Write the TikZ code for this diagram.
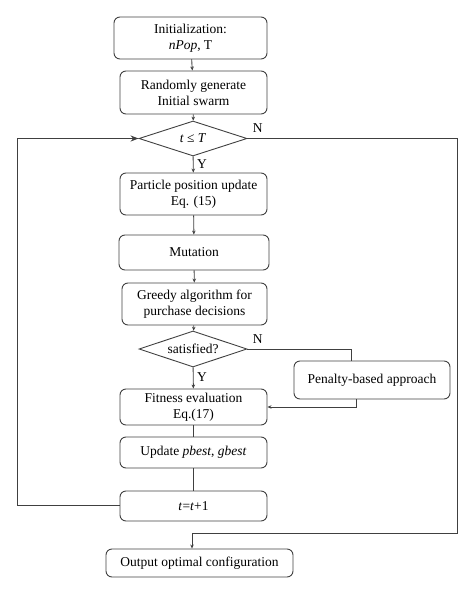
\documentclass[tikz,border=0pt]{standalone}
\usepackage{fontspec}
\setmainfont{Liberation Serif}
\usetikzlibrary{shapes.geometric,arrows.meta}

\begin{document}
\begin{tikzpicture}[x=1pt,y=-1pt,
  box/.style={draw=black!75,line width=0.9pt,rounded corners=6pt,align=center,
    font=\fontsize{13.5}{16}\selectfont,inner sep=0pt},
  decision/.style={draw=black!75,line width=0.9pt,diamond,aspect=3,inner sep=0pt,
    font=\fontsize{13.5}{16}\selectfont},
  line/.style={draw=black!75,line width=0.9pt},
  arrow/.style={line,-{Stealth[length=4pt,width=3.5pt]}},
  bigarrow/.style={line,-{Stealth[length=8pt,width=6pt]}},
  lbl/.style={font=\fontsize{13.5}{16}\selectfont}]
\useasboundingbox (0,0) rectangle (474,594);

\node[box,minimum width=153pt,minimum height=42pt] (init) at (190.5,38)
  {Initialization:\\\textit{nPop}, T};
\node[box,minimum width=147pt,minimum height=43pt] (random) at (193.5,92.5)
  {Randomly generate\\Initial swarm};
\node[decision,minimum width=108pt,minimum height=35pt] (check) at (193,138.5)
  {\textit{t} ≤ \textit{T}};
\node[box,minimum width=147pt,minimum height=42pt] (particle) at (193.5,194)
  {Particle position update\\Eq. (15)};
\node[box,minimum width=150pt,minimum height=35pt] (mutation) at (194,252.5)
  {Mutation};
\node[box,minimum width=145pt,minimum height=42pt] (greedy) at (194.5,304)
  {Greedy algorithm for\\purchase decisions};
\node[decision,minimum width=108pt,minimum height=36pt] (satisfied) at (193,349)
  {satisfied?};
\node[box,minimum width=156pt,minimum height=38pt] (penalty) at (372,380)
  {Penalty-based approach};
\node[box,minimum width=147pt,minimum height=36pt] (fitness) at (193.5,407)
  {Fitness evaluation\\Eq.(17)};
\node[box,minimum width=147pt,minimum height=31pt] (update) at (193.5,452.5)
  {Update \textit{pbest}, \textit{gbest}};
\node[box,minimum width=147pt,minimum height=30pt] (tinc) at (193.5,506)
  {\textit{t}=\textit{t}+1};
\node[box,minimum width=187pt,minimum height=28pt] (output) at (199.5,563)
  {Output optimal configuration};

\coordinate (loopL) at (17,505);
\coordinate (loopR) at (457,533);
\coordinate (outIn) at (192,533);
\coordinate (penT) at (351,349);
\coordinate (penB) at (356,407);

\draw[arrow] (init) -- (random);
\draw[arrow] (random) -- (check);
\draw[arrow] (check) -- node[lbl,right,pos=0.45] {Y} (particle);
\draw[arrow] (particle) -- (mutation);
\draw[arrow] (mutation) -- (greedy);
\draw[arrow] (greedy) -- (satisfied);
\draw[arrow] (satisfied) -- node[lbl,right,pos=0.45] {Y} (fitness);
\draw[line] (fitness) -- (update);
\draw[line] (update) -- (tinc);

\draw[bigarrow] (tinc.west |- loopL) -- (loopL) |- (check.west);
\draw[line] (check.east) -- (check.east -| loopR) -- (loopR) -- (outIn);
\draw[arrow] (outIn) -- (outIn |- output.north);
\node[lbl,above right] (nA) at ([xshift=2pt,yshift=2pt]check.east) {N};

\draw[line] (satisfied.east) -| (penT |- penalty.north);
\node[lbl,above right] (nB) at ([xshift=2pt,yshift=2pt]satisfied.east) {N};
\draw[arrow] (penB |- penalty.south) -- (penB) -- (fitness.east |- penB);
\end{tikzpicture}
\end{document}
